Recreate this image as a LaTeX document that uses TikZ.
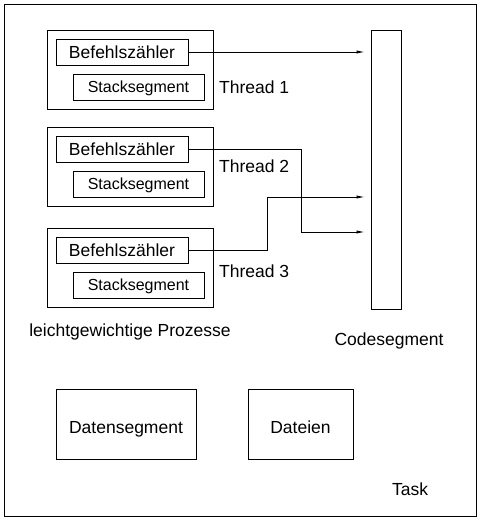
\documentclass[tikz,border=0pt]{standalone}
\usepackage{fontspec}
\setmainfont{Liberation Sans}
\usetikzlibrary{arrows.meta}
\begin{document}
\begin{tikzpicture}[x=1pt,y=-1pt,
  box/.style={draw,line width=0.8pt,inner sep=0pt,anchor=center},
  lbl/.style={font=\fontsize{17.5}{20}\selectfont,inner sep=0pt},
  small/.style={font=\fontsize{16}{19}\selectfont,text depth=0pt,text height=11pt},
  big/.style={font=\fontsize{17.5}{20}\selectfont,text depth=0pt,text height=12pt},
  arr/.style={line width=0.8pt,-{Latex[length=8pt,width=3.2pt]}},
  con/.style={line width=0.8pt}]
\useasboundingbox (0,0) rectangle (481,522);
\node[box,line width=0.9pt,minimum width=472pt,minimum height=512pt] (task) at (240,260) {};
% threads
\foreach \i/\y in {1/0,2/97,3/198}{
  \node[box,minimum width=166pt,minimum height=79pt] (th\i) at (130,69.5+\y) {};
  \node[box,big,minimum width=132pt,minimum height=26pt] (bz\i) at (122,52+\y) {Befehlsz\"ahler};
  \node[box,small,minimum width=131pt,minimum height=26pt] (ss\i) at (138.5,87+\y) {Stacksegment};
}
\node[lbl,anchor=west] (l1) at (219,87) {Thread 1};
\node[lbl,anchor=west] (l2) at (219,166) {Thread 2};
\node[lbl,anchor=west] (l3) at (219,271) {Thread 3};
\node[box,minimum width=30pt,minimum height=279pt] (code) at (386,169.5) {};
\node[lbl] (codel) at (389,341) {Codesegment};
\node[lbl] (lwp) at (130,332) {leichtgewichtige Prozesse};
\node[box,minimum width=140pt,minimum height=70pt] (data) at (126,424) {};
\node[big,inner sep=0pt] (datal) at (126,427) {Datensegment};
\node[box,minimum width=105pt,minimum height=70pt] (files) at (300.5,424) {};
\node[big,inner sep=0pt] (filesl) at (300.5,427) {Dateien};
\node[lbl] (taskl) at (410,489) {Task};
% connectors
\coordinate (t2r) at (301,232);
\coordinate (t3r) at (267,197);
\draw[arr] (bz1.east) -- ([xshift=-6pt]code.west |- bz1.east);
\draw[arr] (bz2.east) -| (t2r) -- ([xshift=-6pt]code.west |- t2r);
\draw[arr] (bz3.east) -| (t3r) -- ([xshift=-6pt]code.west |- t3r);
\end{tikzpicture}
\end{document}
